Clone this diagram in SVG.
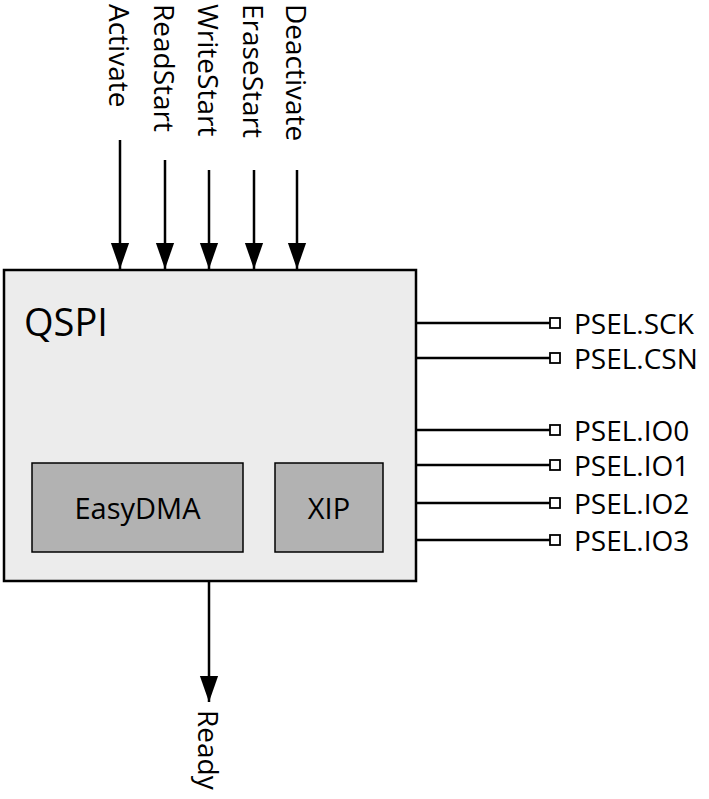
<svg xmlns="http://www.w3.org/2000/svg" width="709" height="799" viewBox="0 0 709 799">
<style>
text{font-family:"Open Sans","Liberation Sans",sans-serif;fill:#000}
.sig{font-size:28px}
.w{stroke:#000;stroke-width:2.5;fill:none}
.pin{fill:#fff;stroke:#000;stroke-width:1.8}
</style>
<defs>
<marker id="a" viewBox="0 0 10 10" refX="10" refY="5" markerWidth="26" markerHeight="26" markerUnits="userSpaceOnUse" orient="auto"><path d="M0,1.5L10,5L0,8.5z" fill="#000"/></marker></defs>
<g id="qspi"><rect x="4" y="270" width="412" height="311" fill="#ececec" stroke="#000" stroke-width="2.5"/><text x="24" y="336" font-size="38">QSPI</text></g>
<g id="easydma"><rect x="32" y="463" width="211" height="89" fill="#b2b2b2" stroke="#000" stroke-width="1.5"/><text x="137.5" y="519" font-size="29" text-anchor="middle">EasyDMA</text></g>
<g id="xip"><rect x="275" y="463" width="108" height="89" fill="#b2b2b2" stroke="#000" stroke-width="1.5"/><text x="329" y="519" font-size="29" text-anchor="middle">XIP</text></g>
<g id="connectors">
<line class="w" x1="120" y1="140" x2="120" y2="269" marker-end="url(#a)"/>
<line class="w" x1="165" y1="160" x2="165" y2="269" marker-end="url(#a)"/>
<line class="w" x1="209" y1="170" x2="209" y2="269" marker-end="url(#a)"/>
<line class="w" x1="254" y1="170" x2="254" y2="269" marker-end="url(#a)"/>
<line class="w" x1="297" y1="170" x2="297" y2="269" marker-end="url(#a)"/>
<line class="w" x1="209" y1="581" x2="209" y2="702" marker-end="url(#a)"/>
<g stroke="#000" stroke-width="2.5">
<line x1="416" y1="323" x2="550" y2="323"/><line x1="416" y1="358" x2="550" y2="358"/>
<line x1="416" y1="430" x2="550" y2="430"/><line x1="416" y1="465" x2="550" y2="465"/>
<line x1="416" y1="503" x2="550" y2="503"/><line x1="416" y1="540" x2="550" y2="540"/></g>
<rect class="pin" x="550" y="318" width="10" height="10"/><rect class="pin" x="550" y="353" width="10" height="10"/>
<rect class="pin" x="550" y="425" width="10" height="10"/><rect class="pin" x="550" y="460" width="10" height="10"/>
<rect class="pin" x="550" y="498" width="10" height="10"/><rect class="pin" x="550" y="535" width="10" height="10"/>
</g>
<g id="labels" class="sig">
<text transform="translate(109,4) rotate(90)">Activate</text>
<text transform="translate(154,4) rotate(90)">ReadStart</text>
<text transform="translate(198,4) rotate(90)">WriteStart</text>
<text transform="translate(243,4) rotate(90)">EraseStart</text>
<text transform="translate(286,4) rotate(90)">Deactivate</text>
<text transform="translate(198,710) rotate(90)">Ready</text>
<text x="574" y="334">PSEL.SCK</text><text x="574" y="369">PSEL.CSN</text>
<text x="574" y="441">PSEL.IO0</text><text x="574" y="476">PSEL.IO1</text>
<text x="574" y="514">PSEL.IO2</text><text x="574" y="551">PSEL.IO3</text>
</g>
</svg>
